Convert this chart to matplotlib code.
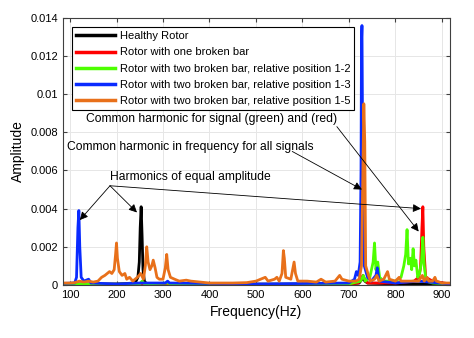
import matplotlib
matplotlib.use('Agg')
import matplotlib.pyplot as plt

plt.rcParams['font.family'] = ['Liberation Sans', 'DejaVu Sans']

# healthy rotor
f_healthy = [85, 100, 150, 200, 240, 246, 249, 251, 253, 255, 257, 260, 265, 300, 400,
             500, 600, 700, 722, 728, 731, 734, 740, 800, 850, 900, 917]
a_healthy = [0.00005, 0.00005, 0.00005, 0.00005, 0.0001, 0.0004, 0.0012, 0.0030, 0.0041,
             0.0026, 0.0008, 0.0002, 0.00005, 0.00005, 0.00004, 0.00004, 0.00004, 0.00005,
             0.0001, 0.0003, 0.0004, 0.0002, 0.0001, 0.00005, 0.00005, 0.00004, 0.00004]

# one broken bar
f_one = [85, 150, 250, 400, 600, 700, 720, 726, 730, 734, 740, 760, 800, 840, 850, 854,
         857, 859, 861, 865, 880, 917]
a_one = [0.00003, 0.00003, 0.00004, 0.00003, 0.00003, 0.00005, 0.0001, 0.0003, 0.0005,
         0.0003, 0.0001, 0.0001, 0.0001, 0.0002, 0.0004, 0.0009, 0.0030, 0.0041, 0.0020,
         0.0004, 0.0002, 0.00005]

# two broken bars 1-2
f_12 = [85, 150, 250, 255, 260, 310, 320, 500, 700, 725, 731, 735, 745, 752, 755, 758,
        762, 766, 775, 800, 812, 818, 822, 825, 828, 832, 835, 838, 841, 844, 848, 852,
        856, 859, 862, 866, 880, 917]
a_12 = [0.00003, 0.00003, 0.00005, 0.0002, 0.00005, 0.0001, 0.00004, 0.00003, 0.00005,
        0.0002, 0.0005, 0.0002, 0.0004, 0.0012, 0.0022, 0.0008, 0.0012, 0.0004, 0.0002,
        0.0002, 0.0004, 0.0010, 0.0016, 0.0029, 0.0011, 0.0014, 0.0008, 0.0019, 0.0010,
        0.0013, 0.0004, 0.0006, 0.0012, 0.0025, 0.0010, 0.0002, 0.0001, 0.00005]

# two broken bars 1-3
f_13 = [85, 110, 114, 117, 119, 121, 124, 130, 140, 145, 200, 250, 305, 310, 314, 500,
        700, 712, 716, 720, 724, 726, 727, 728, 730, 733, 740, 748, 758, 761, 765, 800,
        850, 917]
a_13 = [0.00008, 0.0001, 0.0004, 0.0030, 0.0039, 0.0020, 0.0004, 0.0002, 0.0003, 0.0001,
        0.00005, 0.0001, 0.0001, 0.0002, 0.0001, 0.00005, 0.0001, 0.0003, 0.0007, 0.0005,
        0.0012, 0.0060, 0.0128, 0.0136, 0.0050, 0.0010, 0.0004, 0.0002, 0.0005, 0.0009,
        0.0002, 0.0001, 0.0002, 0.00005]

# two broken bars 1-5
f_15 = [85, 100, 110, 120, 130, 140, 150, 160, 168, 175, 180, 185, 190, 195, 198, 200,
        202, 206, 212, 218, 222, 228, 235, 245, 252, 258, 262, 265, 268, 272, 276, 279,
        283, 287, 292, 300, 305, 308, 311, 316, 325, 335, 350, 360, 380, 400, 450, 480,
        500, 510, 520, 526, 540, 545, 550, 556, 559, 561, 564, 575, 582, 585, 590, 610,
        630, 640, 650, 670, 680, 685, 700, 715, 722, 727, 730, 732, 734, 736, 742, 746,
        755, 760, 765, 775, 783, 787, 800, 808, 812, 830, 850, 858, 862, 868, 872, 880,
        885, 888, 900, 917]
a_15 = [0.0001, 0.0001, 0.00012, 0.0002, 0.00015, 0.0002, 0.00015, 0.0002, 0.0004,
        0.0005, 0.0006, 0.0007, 0.0006, 0.0008, 0.0016, 0.0022, 0.0014, 0.0007, 0.0005,
        0.0006, 0.0003, 0.0004, 0.0002, 0.0004, 0.0006, 0.0003, 0.0010, 0.0020, 0.0012,
        0.0008, 0.0010, 0.0013, 0.0009, 0.0004, 0.0003, 0.0003, 0.0009, 0.0016, 0.0008,
        0.0004, 0.0003, 0.0002, 0.00025, 0.0002, 0.00015, 0.0001, 0.0001, 0.00012,
        0.0002, 0.0003, 0.0004, 0.0002, 0.0003, 0.0004, 0.0002, 0.0006, 0.0018, 0.0014,
        0.0004, 0.0003, 0.0012, 0.0006, 0.0002, 0.0002, 0.00015, 0.0003, 0.00015, 0.0002,
        0.0005, 0.0003, 0.0002, 0.0002, 0.0003, 0.0010, 0.0060, 0.0095, 0.0075, 0.0010,
        0.0005, 0.0002, 0.0003, 0.0005, 0.0002, 0.0003, 0.0007, 0.0003, 0.0002, 0.0004,
        0.0002, 0.0002, 0.0002, 0.0005, 0.0002, 0.0004, 0.0002, 0.0002, 0.0004, 0.0002,
        0.0001, 0.0001]

labels = ['Healthy Rotor', 'Rotor with one broken bar',
          'Rotor with two broken bar, relative position 1-2',
          'Rotor with two broken bar, relative position 1-3',
          'Rotor with two broken bar, relative position 1-5']

fig = plt.figure(figsize=(4.74, 3.38), dpi=100)
ax = fig.add_axes([0.133, 0.157, 0.816, 0.79])

ax.plot(f_healthy, a_healthy, color='black', lw=2, label=labels[0])
ax.plot(f_one, a_one, color='#ff0000', lw=2, label=labels[1])
ax.plot(f_12, a_12, color='#4dff00', lw=2, label=labels[2])
ax.plot(f_13, a_13, color='#0a2bff', lw=2, label=labels[3])
ax.plot(f_15, a_15, color='#e8701a', lw=2, label=labels[4])

ax.set_xlim(85, 917)
ax.set_ylim(0, 0.014)
ax.set_xticks(range(100, 901, 100))
ax.set_yticks([0, 0.002, 0.004, 0.006, 0.008, 0.01, 0.012, 0.014])
ax.set_yticklabels(['0', '0.002', '0.004', '0.006', '0.008', '0.01', '0.012', '0.014'])
ax.tick_params(direction='in', top=True, right=True, labelsize=8, length=3, color='#404040')
ax.grid(True, color='#e6e6e6', lw=0.7)
ax.set_axisbelow(True)
for s in ax.spines.values():
    s.set_color('#404040')
    s.set_linewidth(0.8)

ax.set_xlabel('Frequency(Hz)', fontsize=10)
ax.set_ylabel('Amplitude', fontsize=10)

leg = ax.legend(loc='upper left', bbox_to_anchor=(0.01, 0.985), fontsize=8.0,
                handlelength=3.5, handletextpad=0.4, labelspacing=0.55,
                fancybox=False, edgecolor='black', framealpha=1,
                borderpad=0.35)
leg.get_frame().set_linewidth(0.8)
for line in leg.get_lines():
    line.set_linewidth(2.5)

arrow = dict(arrowstyle='-|>', color='black', lw=0.6, mutation_scale=12, shrinkA=0, shrinkB=0)

ax.text(405, 0.00868, 'Common harmonic for signal (green) and (red)', fontsize=8.7,
        ha='center', va='center')
ax.annotate('', xy=(850, 0.0028), xytext=(674, 0.0083), arrowprops=arrow)

ax.text(358, 0.00721, 'Common harmonic in frequency for all signals', fontsize=8.7,
        ha='center', va='center')
ax.annotate('', xy=(728, 0.0050), xytext=(578, 0.0070), arrowprops=arrow)

ax.text(358, 0.00568, 'Harmonics of equal amplitude', fontsize=8.7, ha='center', va='center')
ax.annotate('', xy=(121, 0.0034), xytext=(186, 0.0052), arrowprops=arrow)
ax.annotate('', xy=(244, 0.0038), xytext=(186, 0.0052), arrowprops=arrow)
ax.annotate('', xy=(855, 0.0040), xytext=(186, 0.0052), arrowprops=arrow)

fig.savefig('out.png', dpi=100)
